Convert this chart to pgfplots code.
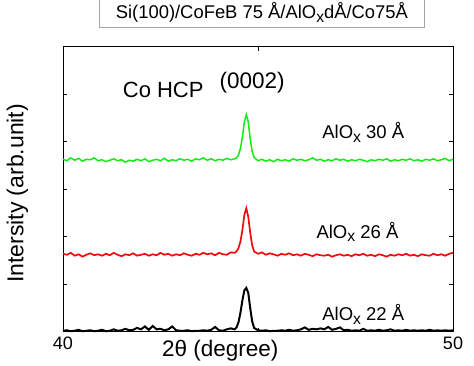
\documentclass[border=0pt]{standalone}
\usepackage{fontspec}
\setmainfont{Liberation Sans}
\usepackage{pgfplots}
\usepackage{pgfplotstable}
\pgfplotsset{compat=1.18}
\definecolor{grn}{RGB}{20,235,20}
\definecolor{rd}{RGB}{240,10,10}
\newcommand{\sbx}{\raisebox{-0.4ex}{\scalebox{0.85}{x}}}
\pgfplotstableread{
x y
40.0 3.63
40.1 3.60
40.2 3.66
40.3 3.61
40.4 3.65
40.5 3.59
40.6 3.63
40.7 3.62
40.8 3.66
40.9 3.60
41.0 3.62
41.1 3.58
41.2 3.61
41.3 3.64
41.4 3.60
41.5 3.62
41.6 3.57
41.7 3.61
41.8 3.59
41.9 3.63
42.0 3.60
42.1 3.64
42.2 3.58
42.3 3.61
42.4 3.63
42.5 3.60
42.6 3.65
42.7 3.59
42.8 3.62
42.9 3.60
43.0 3.64
43.1 3.61
43.2 3.63
43.3 3.59
43.4 3.64
43.5 3.62
43.6 3.66
43.7 3.61
43.8 3.64
43.9 3.60
44.0 3.63
44.1 3.61
44.2 3.65
44.3 3.62
44.4 3.64
44.45 3.66
44.5 3.72
44.55 3.86
44.6 4.10
44.65 4.42
44.7 4.57
44.75 4.42
44.8 4.06
44.85 3.80
44.9 3.67
45.0 3.60
45.1 3.63
45.2 3.59
45.3 3.62
45.4 3.58
45.5 3.63
45.6 3.60
45.7 3.62
45.8 3.59
45.9 3.64
46.0 3.61
46.1 3.63
46.2 3.60
46.3 3.62
46.4 3.66
46.5 3.61
46.6 3.63
46.7 3.59
46.8 3.62
46.9 3.60
47.0 3.64
47.1 3.61
47.2 3.63
47.3 3.59
47.4 3.62
47.5 3.60
47.6 3.63
47.7 3.61
47.8 3.58
47.9 3.62
48.0 3.60
48.1 3.63
48.2 3.61
48.3 3.64
48.4 3.59
48.5 3.62
48.6 3.60
48.7 3.63
48.8 3.61
48.9 3.64
49.0 3.60
49.1 3.62
49.2 3.59
49.3 3.63
49.4 3.61
49.5 3.64
49.6 3.60
49.7 3.62
49.8 3.65
49.9 3.60
50.0 3.63
}\greendata
\pgfplotstableread{
x y
40.0 1.64
40.1 1.62
40.2 1.66
40.3 1.60
40.4 1.63
40.5 1.58
40.6 1.62
40.7 1.65
40.8 1.61
40.9 1.63
41.0 1.60
41.1 1.64
41.2 1.61
41.3 1.66
41.4 1.62
41.5 1.59
41.6 1.63
41.7 1.61
41.8 1.65
41.9 1.60
42.0 1.62
42.1 1.64
42.2 1.60
42.3 1.63
42.4 1.61
42.5 1.66
42.6 1.62
42.7 1.64
42.8 1.60
42.9 1.63
43.0 1.61
43.1 1.65
43.2 1.62
43.3 1.60
43.4 1.64
43.5 1.62
43.6 1.66
43.7 1.63
43.8 1.65
43.9 1.61
44.0 1.66
44.1 1.63
44.2 1.62
44.3 1.67
44.4 1.66
44.45 1.69
44.5 1.76
44.55 1.90
44.6 2.14
44.65 2.46
44.7 2.60
44.75 2.42
44.8 2.09
44.85 1.82
44.9 1.69
45.0 1.64
45.1 1.67
45.2 1.62
45.3 1.65
45.4 1.63
45.5 1.60
45.6 1.64
45.7 1.62
45.8 1.65
45.9 1.61
46.0 1.63
46.1 1.60
46.2 1.64
46.3 1.62
46.4 1.59
46.5 1.63
46.6 1.61
46.7 1.60
46.8 1.62
46.9 1.58
47.0 1.61
47.1 1.63
47.2 1.60
47.3 1.62
47.4 1.59
47.5 1.63
47.6 1.61
47.7 1.64
47.8 1.60
47.9 1.62
48.0 1.59
48.1 1.63
48.2 1.61
48.3 1.58
48.4 1.62
48.5 1.60
48.6 1.63
48.7 1.61
48.8 1.64
48.9 1.60
49.0 1.62
49.1 1.59
49.2 1.63
49.3 1.61
49.4 1.60
49.5 1.64
49.6 1.61
49.7 1.63
49.8 1.60
49.9 1.64
50.0 1.66
}\reddata
\pgfplotstableread{
x y
40.0 0.02
40.1 0.03
40.2 0.01
40.3 0.02
40.4 0.04
40.5 0.01
40.6 0.02
40.7 0.03
40.8 0.01
40.9 0.02
41.0 0.04
41.1 0.01
41.2 0.02
41.3 0.05
41.4 0.02
41.5 0.03
41.6 0.06
41.7 0.03
41.8 0.04
41.9 0.08
42.0 0.05
42.1 0.11
42.2 0.04
42.3 0.12
42.4 0.05
42.5 0.06
42.6 0.03
42.7 0.05
42.8 0.11
42.9 0.03
43.0 0.02
43.1 0.02
43.2 0.03
43.3 0.01
43.4 0.02
43.5 0.02
43.6 0.03
43.7 0.02
43.8 0.04
43.9 0.10
44.0 0.03
44.1 0.02
44.2 0.05
44.3 0.07
44.4 0.05
44.45 0.09
44.5 0.20
44.55 0.40
44.6 0.66
44.65 0.87
44.7 0.92
44.75 0.82
44.8 0.50
44.85 0.22
44.9 0.08
45.0 0.03
45.1 0.02
45.2 0.03
45.3 0.01
45.4 0.02
45.5 0.02
45.6 0.03
45.7 0.02
45.8 0.04
45.9 0.02
46.0 0.03
46.1 0.05
46.2 0.09
46.3 0.04
46.4 0.06
46.5 0.05
46.6 0.07
46.7 0.05
46.8 0.10
46.9 0.04
47.0 0.06
47.1 0.09
47.2 0.03
47.3 0.04
47.4 0.02
47.5 0.03
47.6 0.02
47.7 0.06
47.8 0.02
47.9 0.03
48.0 0.02
48.1 0.04
48.2 0.02
48.3 0.03
48.4 0.05
48.5 0.02
48.6 0.03
48.7 0.02
48.8 0.04
48.9 0.02
49.0 0.03
49.1 0.02
49.2 0.03
49.3 0.02
49.4 0.04
49.5 0.02
49.6 0.03
49.7 0.02
49.8 0.03
49.9 0.02
50.0 0.03
}\blackdata
\begin{document}
\begin{tikzpicture}
\useasboundingbox (-63pt,-33.3pt) rectangle (411pt,331.7pt);
\begin{axis}[
  scale only axis,
  width=390pt, height=285pt,
  at={(0pt,0pt)}, anchor=south west,
  xmin=40, xmax=50, ymin=0, ymax=6,
  xtick={40,45,50}, xticklabels={40,,50},
  ytick={1,2,3,4,5}, yticklabels={},
  major tick length=4pt,
  tick style={black, line width=0.6pt},
  axis line style={line width=0.8pt},
  /pgf/number format/assume math mode=true,
  ticklabel style={font=\fontsize{18}{20}\selectfont},
  xticklabel style={yshift=-2pt},
  clip=false,
  xlabel={2θ (degree)},
  xlabel style={font=\fontsize{22.5}{25}\selectfont, at={(axis description cs:0.403,-0.066)}, anchor=center},
  ylabel={Intersity (arb.unit)},
  ylabel style={font=\fontsize{23}{26}\selectfont, at={(axis description cs:-0.117,0.485)}, anchor=center, rotate=0},
  title={Si(100)/CoFeB 75 Å/AlO\sbx dÅ/Co75Å},
  title style={font=\fontsize{18.4}{21}\selectfont, draw=gray!70, line width=0.6pt, minimum width=325pt, minimum height=29pt, inner sep=0pt, at={(axis description cs:0.51,1.099)}, anchor=center},
]
\addplot[color=grn, line width=1.5pt] table[x=x,y=y]{\greendata};
\addplot[color=rd, line width=1.7pt] table[x=x,y=y]{\reddata};
\addplot[color=black, line width=2pt] table[x=x,y=y]{\blackdata};
\node[font=\fontsize{22}{25}\selectfont] at (axis cs:42.57,5.10) {Co HCP};
\node[font=\fontsize{22.5}{25}\selectfont] at (axis cs:44.85,5.25) {(0002)};
\node[font=\fontsize{18.5}{21}\selectfont] at (axis cs:47.7,4.19) {AlO\sbx\ 30 Å};
\node[font=\fontsize{18.5}{21}\selectfont] at (axis cs:47.55,2.10) {AlO\sbx\ 26 Å};
\node[font=\fontsize{18.5}{21}\selectfont] at (axis cs:47.7,0.36) {AlO\sbx\ 22 Å};
\end{axis}
\end{tikzpicture}
\end{document}
